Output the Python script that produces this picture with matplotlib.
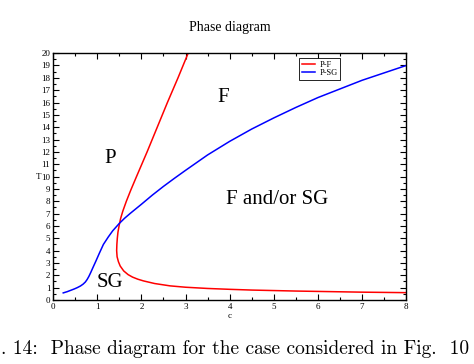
import numpy as np
import matplotlib
matplotlib.use("Agg")
import matplotlib.pyplot as plt
from matplotlib.ticker import MultipleLocator

# P-F boundary (red), traced from top to bottom
pf_c = [3.06, 2.83, 2.59, 2.36, 2.13, 1.89, 1.76, 1.66, 1.58, 1.53, 1.50,
        1.47, 1.455, 1.445, 1.44, 1.45, 1.48, 1.52, 1.60, 1.70, 1.80, 1.92,
        2.05, 2.30, 2.65, 3.00, 3.50, 4.00, 4.50, 5.00, 5.50, 6.00, 6.50,
        7.00, 7.50, 8.00]
pf_T = [20.0, 18.0, 16.0, 14.0, 12.0, 10.0, 8.9, 8.0, 7.2, 6.6, 6.1,
        5.5, 5.0, 4.5, 4.0, 3.5, 3.1, 2.75, 2.35, 2.05, 1.85, 1.68,
        1.54, 1.33, 1.14, 1.03, 0.93, 0.86, 0.80, 0.76, 0.72, 0.69, 0.66,
        0.63, 0.61, 0.59]

# P-SG boundary (blue)
psg_c = [0.23, 0.32, 0.40, 0.48, 0.55, 0.62, 0.68, 0.73, 0.77, 0.81, 0.85,
         0.90, 0.97, 1.05, 1.14, 1.25, 1.35, 1.50, 1.62, 1.75, 1.88, 2.00,
         2.25, 2.50, 2.75, 3.00, 3.50, 4.00, 4.50, 5.00, 5.50, 6.00, 6.50,
         7.00, 7.50, 8.00]
psg_T = [0.57, 0.67, 0.78, 0.89, 1.00, 1.13, 1.28, 1.45, 1.65, 1.90, 2.20,
         2.60, 3.15, 3.80, 4.50, 5.10, 5.60, 6.20, 6.62, 7.02, 7.40, 7.75,
         8.50, 9.20, 9.86, 10.50, 11.75, 12.85, 13.85, 14.75, 15.60, 16.40,
         17.10, 17.80, 18.40, 19.00]

serif = "Liberation Serif"

fig = plt.figure(figsize=(4.74, 3.64), dpi=100)
ax = fig.add_axes([0.112, 0.176, 0.745, 0.678])

ax.plot(pf_c, pf_T, color="#ff0000", lw=1.1, label="P-F")
ax.plot(psg_c, psg_T, color="#0000ff", lw=1.1, label="P-SG")

ax.set_xlim(0, 8)
ax.set_ylim(0, 20)
ax.xaxis.set_major_locator(MultipleLocator(1))
ax.xaxis.set_minor_locator(MultipleLocator(0.5))
ax.yaxis.set_major_locator(MultipleLocator(1))
ax.yaxis.set_minor_locator(MultipleLocator(0.5))
ax.tick_params(which="both", direction="in", top=True, right=True, width=0.8)
ax.tick_params(which="major", length=4.5, pad=2, labelsize=6.5)
ax.tick_params(which="minor", length=2.3)
for lab in ax.get_xticklabels() + ax.get_yticklabels():
    lab.set_fontfamily(serif)
for s in ax.spines.values():
    s.set_linewidth(1.0)

ax.set_xlabel("c", fontfamily=serif, fontsize=6.5, labelpad=1)
ax.set_ylabel("T", fontfamily=serif, fontsize=6.5, rotation=0, labelpad=2, va="center")
ax.set_title("Phase diagram", fontfamily=serif, fontsize=10, pad=16)

ax.text(1.29, 11.5, "P", fontfamily=serif, fontsize=15, ha="center", va="center")
ax.text(3.86, 16.4, "F", fontfamily=serif, fontsize=15, ha="center", va="center")
ax.text(5.08, 8.1, "F and/or SG", fontfamily=serif, fontsize=15, ha="center", va="center")
ax.text(1.29, 1.4, "SG", fontfamily=serif, fontsize=15, ha="center", va="center")

leg = ax.legend(loc="upper left", bbox_to_anchor=(0.697, 0.98), fancybox=False,
                edgecolor="black", framealpha=1, handlelength=1.6, borderpad=0.3,
                labelspacing=0.1, handletextpad=0.5, borderaxespad=0,
                prop={"family": serif, "size": 6})
leg.get_frame().set_linewidth(0.6)

fig.text(0.003, 0.027, ". 14:  Phase diagram for the case considered in Fig.  10",
         fontfamily="cmr10", fontsize=14, ha="left", va="baseline")

fig.savefig("out.png", dpi=100)
